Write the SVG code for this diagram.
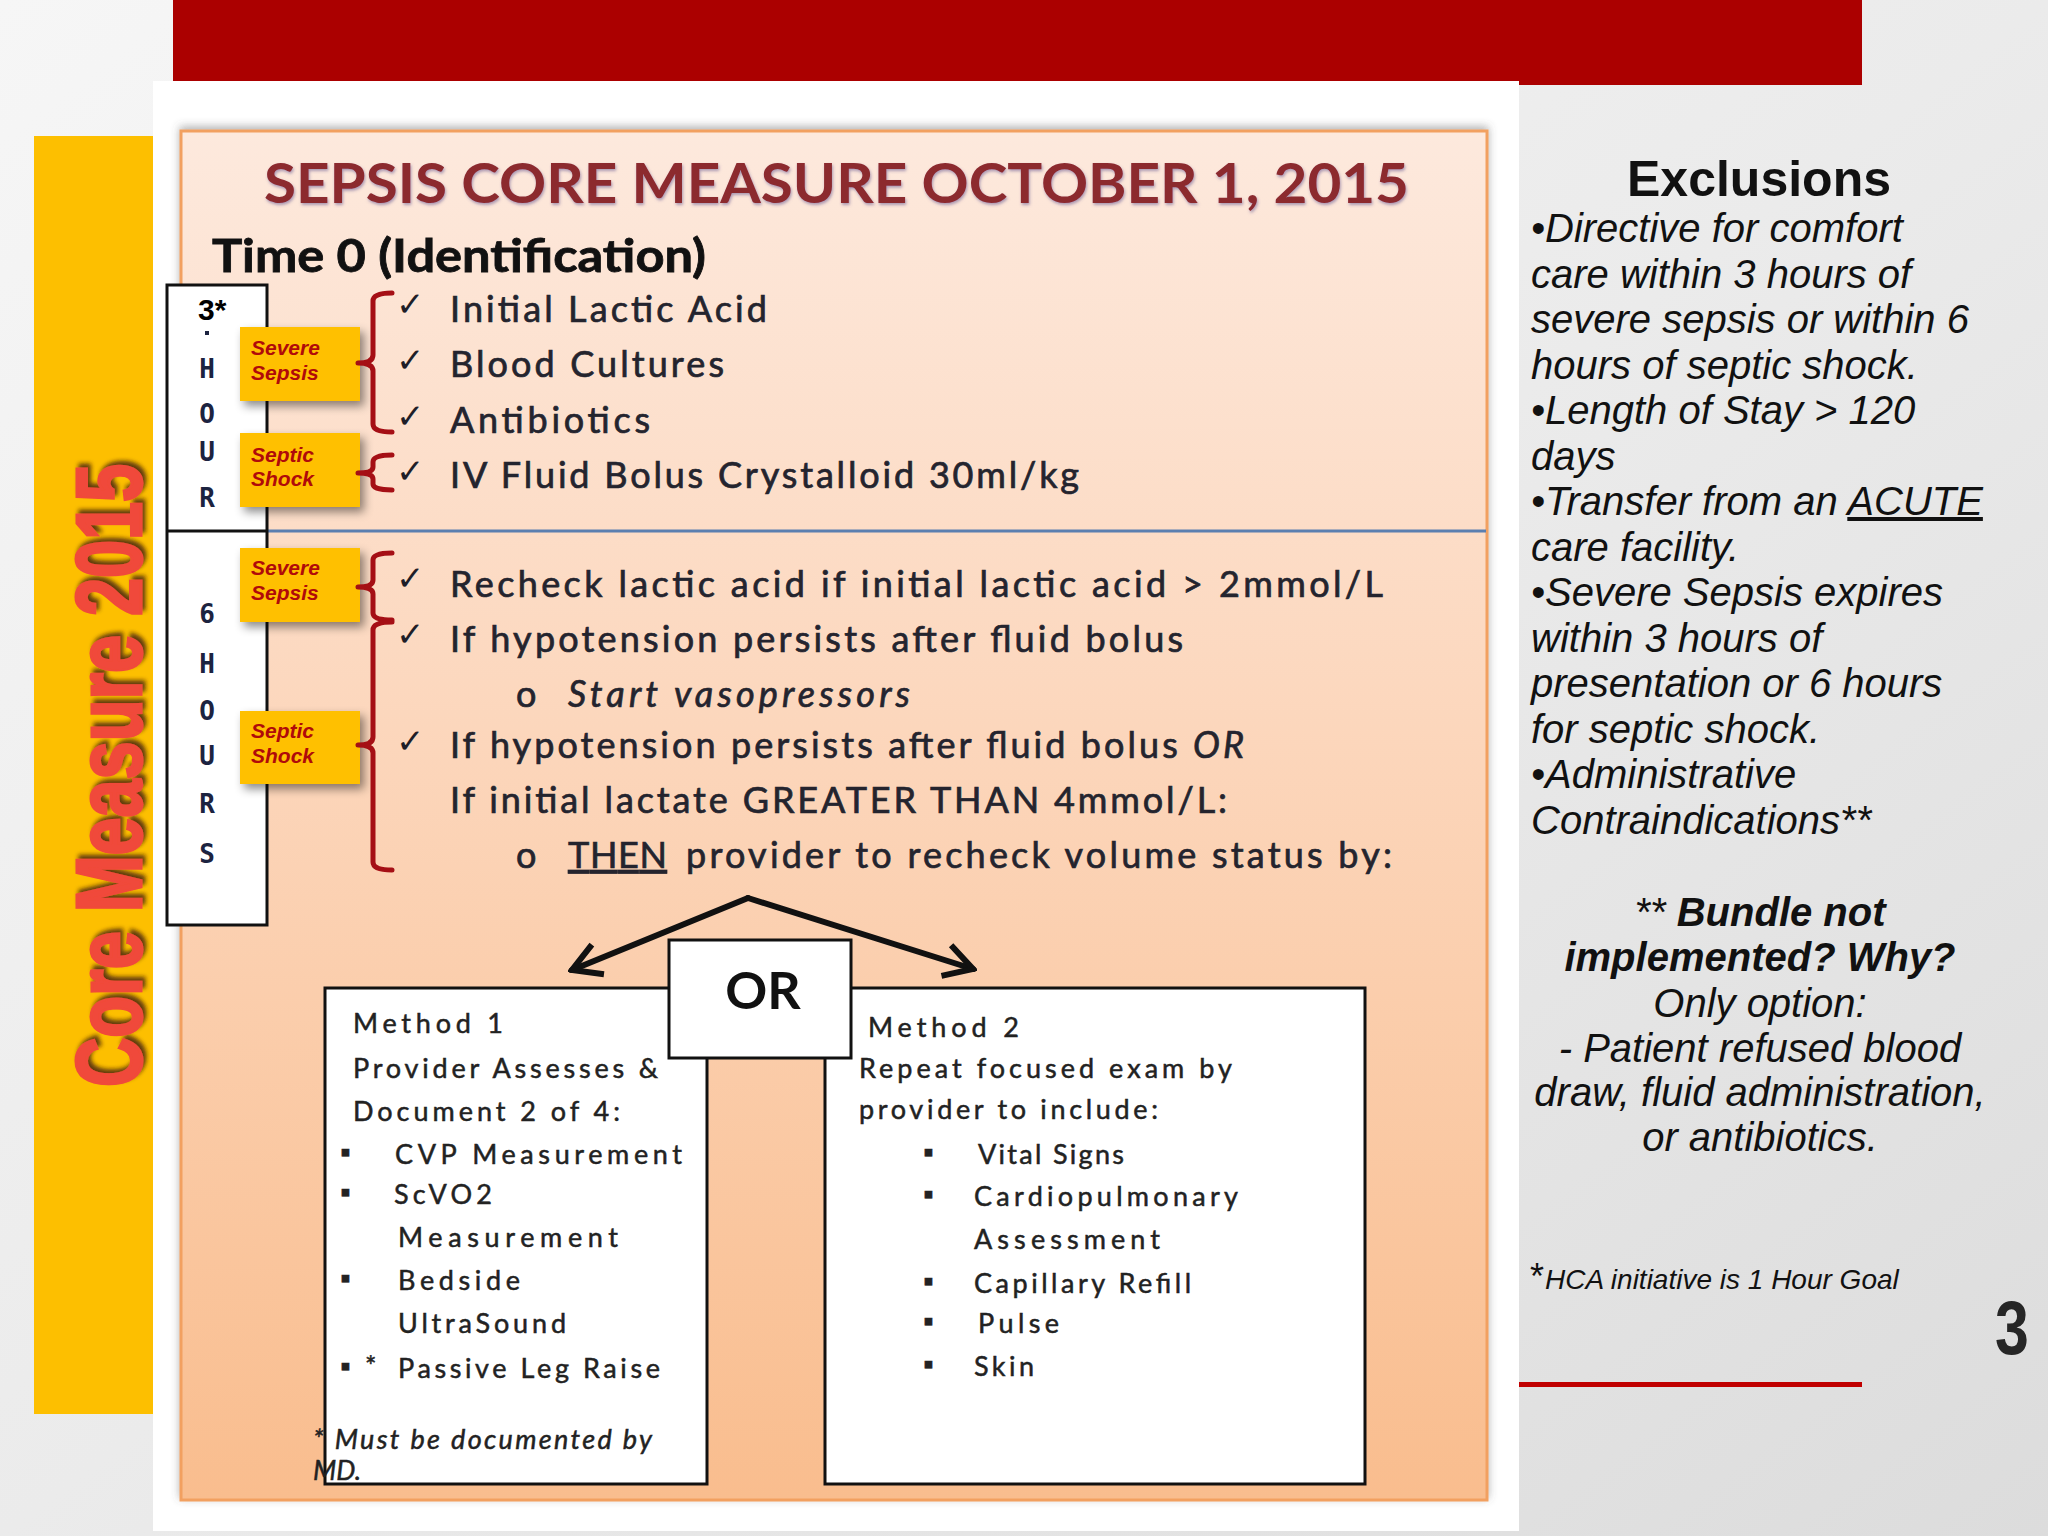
<svg xmlns="http://www.w3.org/2000/svg" width="2048" height="1536" viewBox="0 0 2048 1536">
  <defs>
    <linearGradient id="bg" x1="0" y1="0" x2="1" y2="1">
      <stop offset="0" stop-color="#f6f6f6"/>
      <stop offset="0.5" stop-color="#ebebeb"/>
      <stop offset="1" stop-color="#dcdcdc"/>
    </linearGradient>
    <linearGradient id="panelGrad" x1="0" y1="0" x2="0" y2="1">
      <stop offset="0" stop-color="#fde9dd"/>
      <stop offset="0.45" stop-color="#fcd6bb"/>
      <stop offset="1" stop-color="#f9bd8e"/>
    </linearGradient>
    <filter id="softShadow" x="-20%" y="-20%" width="150%" height="150%">
      <feDropShadow dx="4" dy="5" stdDeviation="5" flood-color="#000" flood-opacity="0.45"/>
    </filter>
    <filter id="panelShadow" x="-5%" y="-5%" width="110%" height="110%">
      <feDropShadow dx="0" dy="-3" stdDeviation="4" flood-color="#555" flood-opacity="0.45"/>
    </filter>
    <filter id="textShadow" x="-10%" y="-10%" width="130%" height="130%">
      <feDropShadow dx="4" dy="3" stdDeviation="2" flood-color="#3a1a10" flood-opacity="0.8"/>
    </filter>
    <filter id="titleShadow" x="-5%" y="-20%" width="110%" height="150%">
      <feDropShadow dx="1" dy="2" stdDeviation="1.5" flood-color="#5a4a8a" flood-opacity="0.5"/>
    </filter>
    <marker id="openArrow" markerUnits="userSpaceOnUse" viewBox="0 0 40 40" refX="36" refY="20" markerWidth="40" markerHeight="40" orient="auto">
      <path d="M8,4 L36,20 L8,36" fill="none" stroke="#111" stroke-width="6" stroke-linejoin="miter"/>
    </marker>
    <style>
      .item { font-family: Lato, "Liberation Sans", sans-serif; font-size: 36px; fill: #24242e; stroke: #24242e; stroke-width: 0.7px; }
      .check { font-family: "DejaVu Sans", sans-serif; font-size: 34px; font-weight: bold; fill: #1e1e28; }
      .tag { font-family: "Liberation Sans", Arial, sans-serif; font-size: 21px; font-weight: bold; font-style: italic; fill: #b00a0a; }
      .tagbox { fill: #ffc000; }
      .hr { font-family: "DejaVu Sans Mono", monospace; font-size: 26px; font-weight: bold; fill: #1c2340; text-anchor: middle; }
      .brace { fill: none; stroke: #a50f15; stroke-width: 5; stroke-linecap: round; stroke-linejoin: round; }
      .mtext { font-family: Lato, "Liberation Sans", sans-serif; font-size: 27px; fill: #222; stroke: #222; stroke-width: 0.5px; }
      .box { fill: #fff; stroke: #111; stroke-width: 3; }
      .excl { font-family: "Liberation Sans", Arial, sans-serif; font-size: 40px; font-style: italic; fill: #111; }
      .exclc { font-family: "Liberation Sans", Arial, sans-serif; font-size: 40px; font-style: italic; fill: #111; text-anchor: middle; }
    </style>
  </defs>

  <!-- slide background -->
  <rect x="0" y="0" width="2048" height="1536" fill="url(#bg)"/>

  <!-- top red bar -->
  <rect x="173" y="0" width="1689" height="85" fill="#ab0000"/>
  <!-- white content panel -->
  <rect x="153" y="81" width="1366" height="1450" fill="#ffffff"/>
  <!-- yellow side bar -->
  <rect x="34" y="136" width="119" height="1278" fill="#fdbf00"/>
  <!-- bottom right red line -->
  <rect x="1519" y="1382" width="343" height="5" fill="#c00000"/>

  <!-- vertical title -->
  <g id="side-title">
    <text transform="translate(141,1087) rotate(-90)" x="0" y="0" textLength="623" lengthAdjust="spacingAndGlyphs" font-family="Liberation Sans, Arial, sans-serif" font-weight="bold" font-size="92" fill="#f04a3a" stroke="#f04a3a" stroke-width="3" filter="url(#textShadow)">Core Measure 2015</text>
  </g>

  <!-- orange panel -->
  <g id="panel">
    <rect x="181" y="131" width="1306" height="1369" fill="url(#panelGrad)" stroke="#f2a060" stroke-width="3" filter="url(#panelShadow)"/>
    <text x="264" y="203" textLength="1145" lengthAdjust="spacingAndGlyphs" font-family="Lato, Liberation Sans, sans-serif" font-weight="bold" font-size="56" fill="#8c2a2e" filter="url(#titleShadow)">SEPSIS CORE MEASURE OCTOBER 1, 2015</text>
    <text x="212" y="272" textLength="494" lengthAdjust="spacingAndGlyphs" font-family="Lato, Liberation Sans, sans-serif" font-weight="bold" font-size="46" fill="#111" stroke="#111" stroke-width="0.8">Time 0 (Identification)</text>
    <line x1="264" y1="531" x2="1486" y2="531" stroke="#5b7fb0" stroke-width="3"/>
  </g>

  <!-- hour box -->
  <g id="hour-box">
    <rect class="box" x="167" y="285" width="100" height="640"/>
    <line x1="167" y1="531" x2="267" y2="531" stroke="#111" stroke-width="3"/>
    <text x="198" y="320" font-family="Liberation Sans, Arial, sans-serif" font-weight="bold" font-size="30" fill="#000">3*</text>
    <rect x="205" y="331" width="4" height="4" fill="#1c2340"/>
    <text class="hr" x="207" y="378">H</text>
    <text class="hr" x="207" y="423">O</text>
    <text class="hr" x="207" y="461">U</text>
    <text class="hr" x="207" y="507">R</text>
    <text class="hr" x="207" y="623">6</text>
    <text class="hr" x="207" y="673">H</text>
    <text class="hr" x="207" y="720">O</text>
    <text class="hr" x="207" y="765">U</text>
    <text class="hr" x="207" y="813">R</text>
    <text class="hr" x="207" y="863">S</text>
  </g>

  <!-- tags -->
  <g id="tag-severe-1">
    <rect class="tagbox" x="240" y="327" width="120" height="74" filter="url(#softShadow)"/>
    <text class="tag" x="251" y="355">Severe</text>
    <text class="tag" x="251" y="380">Sepsis</text>
  </g>
  <g id="tag-septic-1">
    <rect class="tagbox" x="240" y="433" width="120" height="74" filter="url(#softShadow)"/>
    <text class="tag" x="251" y="462">Septic</text>
    <text class="tag" x="251" y="486">Shock</text>
  </g>
  <g id="tag-severe-2">
    <rect class="tagbox" x="240" y="548" width="120" height="74" filter="url(#softShadow)"/>
    <text class="tag" x="251" y="575">Severe</text>
    <text class="tag" x="251" y="600">Sepsis</text>
  </g>
  <g id="tag-septic-2">
    <rect class="tagbox" x="240" y="711" width="120" height="73" filter="url(#softShadow)"/>
    <text class="tag" x="251" y="738">Septic</text>
    <text class="tag" x="251" y="763">Shock</text>
  </g>

  <!-- braces -->
  <g id="braces">
    <path class="brace" d="M392,293 Q373,293 373,301 L373,355 Q373,363 358,363 Q373,363 373,371 L373,424 Q373,432 392,432"/>
    <path class="brace" d="M392,455 Q373,455 373,462 L373,467 Q373,473 358,473 Q373,473 373,479 L373,484 Q373,490 392,490"/>
    <path class="brace" d="M392,553 Q373,553 373,560 L373,580 Q373,587 358,587 Q373,587 373,594 L373,613 Q373,620 392,620"/>
    <path class="brace" d="M392,622 Q373,622 373,630 L373,737 Q373,745 358,745 Q373,745 373,753 L373,862 Q373,870 392,870"/>
  </g>

  <!-- checklist -->
  <g id="checklist">
    <text class="check" x="396" y="316">✓</text>
    <text class="item" x="450" y="322" textLength="317" lengthAdjust="spacing">Initial Lactic Acid</text>
    <text class="check" x="396" y="372">✓</text>
    <text class="item" x="450" y="377" textLength="274" lengthAdjust="spacing">Blood Cultures</text>
    <text class="check" x="396" y="428">✓</text>
    <text class="item" x="450" y="433" textLength="200" lengthAdjust="spacing">Antibiotics</text>
    <text class="check" x="396" y="483">✓</text>
    <text class="item" x="450" y="488" textLength="629" lengthAdjust="spacing">IV Fluid Bolus Crystalloid 30ml/kg</text>

    <text class="check" x="396" y="590">✓</text>
    <text class="item" x="450" y="597" textLength="933" lengthAdjust="spacing">Recheck lactic acid if initial lactic acid  &gt; 2mmol/L</text>
    <text class="check" x="396" y="646">✓</text>
    <text class="item" x="450" y="652" textLength="733" lengthAdjust="spacing">If hypotension persists after fluid bolus</text>
    <text class="item" x="516" y="707">o</text>
    <text class="item" x="568" y="707" textLength="342" lengthAdjust="spacing" font-style="italic">Start vasopressors</text>
    <text class="check" x="396" y="753">✓</text>
    <text class="item" x="450" y="758" textLength="794" lengthAdjust="spacing">If hypotension persists after fluid bolus <tspan font-style="italic">OR</tspan></text>
    <text class="item" x="450" y="813" textLength="777" lengthAdjust="spacing">If initial lactate GREATER THAN 4mmol/L:</text>
    <text class="item" x="516" y="868">o</text>
    <text class="item" x="568" y="868" textLength="99" lengthAdjust="spacing" text-decoration="underline">THEN</text>
    <text class="item" x="686" y="868" textLength="706" lengthAdjust="spacing">provider to recheck volume status by:</text>
  </g>

  <!-- connectors -->
  <g id="connectors">
    <path d="M748,898 L572,970" fill="none" stroke="#111" stroke-width="6" stroke-linecap="round" marker-end="url(#openArrow)"/>
    <path d="M748,898 L973,969" fill="none" stroke="#111" stroke-width="6" stroke-linecap="round" marker-end="url(#openArrow)"/>
  </g>

  <!-- method 1 -->
  <g id="method-1">
    <rect class="box" x="325" y="988" width="382" height="496"/>
    <text class="mtext" x="353" y="1033" textLength="150" lengthAdjust="spacing">Method 1</text>
    <text class="mtext" x="353" y="1078" textLength="305" lengthAdjust="spacing">Provider Assesses &amp;</text>
    <text class="mtext" x="353" y="1121" textLength="267" lengthAdjust="spacing">Document 2 of 4:</text>
    <text class="mtext" x="340" y="1162">▪</text>
    <text class="mtext" x="395" y="1164" textLength="287" lengthAdjust="spacing">CVP Measurement</text>
    <text class="mtext" x="340" y="1202">▪</text>
    <text class="mtext" x="394" y="1204" textLength="98" lengthAdjust="spacing">ScVO2</text>
    <text class="mtext" x="398" y="1247" textLength="220" lengthAdjust="spacing">Measurement</text>
    <text class="mtext" x="340" y="1288">▪</text>
    <text class="mtext" x="398" y="1290" textLength="122" lengthAdjust="spacing">Bedside</text>
    <text class="mtext" x="398" y="1333" textLength="168" lengthAdjust="spacing">UltraSound</text>
    <text class="mtext" x="340" y="1376">▪</text>
    <text class="mtext" x="365" y="1376">*</text>
    <text class="mtext" x="398" y="1378" textLength="262" lengthAdjust="spacing">Passive Leg Raise</text>
    <text class="mtext" x="313" y="1449" textLength="339" lengthAdjust="spacing" font-style="italic" fill="#000">* Must be documented by</text>
    <text class="mtext" x="313" y="1480" font-style="italic" fill="#000">MD.</text>
  </g>

  <!-- method 2 -->
  <g id="method-2">
    <rect class="box" x="825" y="988" width="540" height="496"/>
    <text class="mtext" x="868" y="1037" textLength="151" lengthAdjust="spacing">Method 2</text>
    <text class="mtext" x="859" y="1078" textLength="373" lengthAdjust="spacing">Repeat focused exam by</text>
    <text class="mtext" x="859" y="1119" textLength="299" lengthAdjust="spacing">provider to include:</text>
    <text class="mtext" x="923" y="1162">▪</text>
    <text class="mtext" x="978" y="1164" textLength="146" lengthAdjust="spacing">Vital Signs</text>
    <text class="mtext" x="923" y="1204">▪</text>
    <text class="mtext" x="974" y="1206" textLength="264" lengthAdjust="spacing">Cardiopulmonary</text>
    <text class="mtext" x="974" y="1249" textLength="186" lengthAdjust="spacing">Assessment</text>
    <text class="mtext" x="923" y="1291">▪</text>
    <text class="mtext" x="974" y="1293" textLength="217" lengthAdjust="spacing">Capillary Refill</text>
    <text class="mtext" x="923" y="1331">▪</text>
    <text class="mtext" x="978" y="1333" textLength="81" lengthAdjust="spacing">Pulse</text>
    <text class="mtext" x="923" y="1374">▪</text>
    <text class="mtext" x="974" y="1376" textLength="60" lengthAdjust="spacing">Skin</text>
  </g>

  <!-- OR box -->
  <g id="or-box">
    <rect class="box" x="669" y="940" width="182" height="118"/>
    <text x="763" y="1009" text-anchor="middle" font-family="Lato, Liberation Sans, sans-serif" font-weight="bold" font-size="52" fill="#111">OR</text>
  </g>

  <!-- exclusions -->
  <g id="exclusions">
    <text x="1759" y="196" text-anchor="middle" font-family="Liberation Sans, Arial, sans-serif" font-weight="bold" font-size="50" fill="#111">Exclusions</text>
    <text class="excl" x="1531" y="242">•Directive for comfort</text>
    <text class="excl" x="1531" y="287.5">care within 3 hours of</text>
    <text class="excl" x="1531" y="333">severe sepsis or within 6</text>
    <text class="excl" x="1531" y="378.5">hours of septic shock.</text>
    <text class="excl" x="1531" y="424">•Length of Stay &gt; 120</text>
    <text class="excl" x="1531" y="469.5">days</text>
    <text class="excl" x="1531" y="515">•Transfer from an <tspan text-decoration="underline">ACUTE</tspan></text>
    <text class="excl" x="1531" y="560.5">care facility.</text>
    <text class="excl" x="1531" y="606">•Severe Sepsis expires</text>
    <text class="excl" x="1531" y="651.5">within 3 hours of</text>
    <text class="excl" x="1531" y="697">presentation or 6 hours</text>
    <text class="excl" x="1531" y="742.5">for septic shock.</text>
    <text class="excl" x="1531" y="788">•Administrative</text>
    <text class="excl" x="1531" y="833.5">Contraindications**</text>
  </g>

  <g id="bundle-note">
    <text class="exclc" x="1760" y="926">** <tspan font-weight="bold">Bundle not</tspan></text>
    <text class="exclc" x="1760" y="971" font-weight="bold">implemented? Why?</text>
    <text class="exclc" x="1760" y="1017">Only option:</text>
    <text class="exclc" x="1760" y="1062">- Patient refused blood</text>
    <text class="exclc" x="1760" y="1106">draw, fluid administration,</text>
    <text class="exclc" x="1760" y="1151">or antibiotics.</text>
  </g>

  <g id="hca-note">
    <text x="1530" y="1289" font-family="Liberation Sans, Arial, sans-serif" font-size="36" fill="#111">*</text>
    <text x="1545" y="1289" font-family="Liberation Sans, Arial, sans-serif" font-size="28" font-style="italic" fill="#111">HCA initiative is 1 Hour Goal</text>
  </g>

  <g id="page-number">
    <text transform="translate(1995,1354) scale(0.8,1)" x="0" y="0" font-family="Liberation Sans, Arial, sans-serif" font-weight="bold" font-size="76" fill="#262626">3</text>
  </g>
</svg>
